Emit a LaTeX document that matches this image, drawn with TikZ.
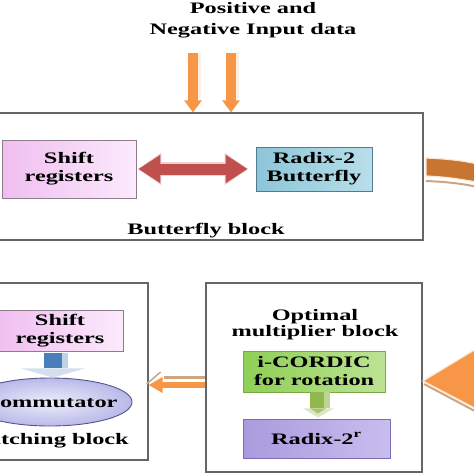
\documentclass[tikz,border=0pt]{standalone}
\usepackage{fontspec}
\setmainfont{Liberation Serif}
\usepackage{graphicx}
\usetikzlibrary{shapes.geometric,arrows.meta,calc}
\definecolor{framec}{HTML}{666666}
\definecolor{orng}{HTML}{F79646}
\definecolor{brn}{HTML}{C77530}
\definecolor{tan}{HTML}{CDA582}
\definecolor{redarr}{HTML}{C0504D}
\definecolor{pinkL}{HTML}{F0BEF0}
\definecolor{pinkR}{HTML}{FCEAFC}
\definecolor{pinkB}{HTML}{8C7C8C}
\definecolor{blueL}{HTML}{8CC6D9}
\definecolor{blueR}{HTML}{B8DEEA}
\definecolor{blueB}{HTML}{4F7C92}
\definecolor{greenL}{HTML}{8ECF55}
\definecolor{greenR}{HTML}{BDE394}
\definecolor{greenB}{HTML}{78A844}
\definecolor{lavL}{HTML}{AA9BDE}
\definecolor{lavR}{HTML}{C8BDEE}
\definecolor{lavB}{HTML}{7B6DB3}
\definecolor{ellI}{HTML}{EDEDFB}
\definecolor{ellO}{HTML}{B9B9E9}
\definecolor{ellB}{HTML}{55558A}
\definecolor{arrBlue}{HTML}{4A7EBB}
\definecolor{arrBlueP}{HTML}{D3DEEE}
\definecolor{arrGreen}{HTML}{93B74F}
\definecolor{arrGreenP}{HTML}{DCE8C4}
\definecolor{paleO}{HTML}{FCE6D6}
\newcommand\wx[1]{\scalebox{1.52}[1]{#1}}
\begin{document}
\begin{tikzpicture}[x=1pt,y=-1pt,
  txt/.style={font=\bfseries\fontsize{16}{18}\selectfont, align=center, inner sep=0pt},
  frm/.style={draw=framec, line width=1.2pt, inner sep=0pt},
  bx/.style={txt, draw=#1, line width=0.9pt},
  down/.style={orng, line width=10pt, -{Triangle[length=12pt,width=17pt]}}
]
\useasboundingbox (0,0) rectangle (474,474);
\clip (0,0) rectangle (474,474);

% title
\node[txt, font=\bfseries\fontsize{16}{21}\selectfont] (title) at (253,20)
  {\wx{Positive and}\\\wx{Negative Input data}};

% frames
\node[frm, minimum width=428pt, minimum height=127pt] (ftop) at (209,176.5) {};
\node[frm, minimum width=153pt, minimum height=177pt] (fbl) at (71.5,371.5) {};
\node[frm, minimum width=216pt, minimum height=189pt] (fbr) at (314,377.5) {};

% input arrows
\coordinate (in1) at (193,53);
\coordinate (in2) at (231,53);
\draw[white!85!orng, line width=3pt] ($(in1)+(6,0)$) -- ($(in1 |- ftop.north)+(6,-14)$);
\draw[white!85!orng, line width=3pt] ($(in2)+(6,0)$) -- ($(in2 |- ftop.north)+(6,-14)$);
\draw[down] (in1) -- (in1 |- ftop.north);
\draw[down] (in2) -- (in2 |- ftop.north);

% top block
\node[bx=pinkB, left color=pinkL, right color=pinkR, minimum width=134pt, minimum height=58pt]
  (srtop) at (69,169) {\wx{Shift}\\\wx{registers}};
\node[bx=blueB, left color=blueL, right color=blueR, minimum width=116pt, minimum height=44pt]
  (r2b) at (314,169) {\wx{Radix-2}\\\wx{Butterfly}};
\draw[redarr!25, line width=14pt, {Triangle[length=24pt,width=31pt]}-{Triangle[length=24pt,width=31pt]}, shorten <=1pt, shorten >=7pt]
  (srtop.east) -- (r2b.west);
\draw[redarr, line width=11pt, {Triangle[length=22pt,width=27pt]}-{Triangle[length=22pt,width=27pt]}, shorten <=2pt, shorten >=8pt]
  (srtop.east) -- (r2b.west);
\node[txt] (bflylbl) at (206,231) {\wx{Butterfly block}};

% curved output arrow (top right)
\draw[tan, line width=2pt] (426,181) .. controls (450,182) and (465,184) .. (482,188);
\fill[brn, draw=paleO, line width=1.2pt] (426,158) .. controls (450,159) and (465,161) .. (482,165)
  -- (482,183) .. controls (465,180) and (450,177) .. (426,176) -- cycle;

% big incoming triangle (bottom right)
\draw[tan, line width=2pt] (424,384) -- (486,417);
\fill[orng, draw=paleO, line width=1.2pt] (423,381) -- (486,343) -- (486,414) -- cycle;

% bottom right block
\node[txt, font=\bfseries\fontsize{16}{16}\selectfont] (optlbl) at (315,325)
  {\wx{Optimal}\\\wx{multiplier block}};
\node[bx=greenB, left color=greenL, right color=greenR, minimum width=142pt, minimum height=41pt]
  (icordic) at (314,371.5) {\wx{i-CORDIC}\\\wx{for rotation}};
\node[bx=lavB, left color=lavL, right color=lavR, minimum width=147pt, minimum height=39pt]
  (rad2r) at (316.5,438.5) {\wx{Radix-2\textsuperscript{r}}};
\coordinate (ga) at ($(icordic.south)+(4,0)$);
\coordinate (gb) at ($(ga |- rad2r.north)+(0,-1)$);
\fill[arrGreenP] ($(ga)+(-15,16)$) -- ($(ga)+(16,16)$) -- (gb) -- cycle;
\fill[arrGreen!60!white] ($(ga)+(4,0)$) rectangle ($(ga)+(12,16)$);
\fill[arrGreen] ($(ga)+(-8,0)$) rectangle ($(ga)+(6,16)$);
\fill[arrGreen!80!white] ($(ga)+(-8,16)$) -- ($(ga)+(8,16)$) -- ($(gb)+(0,-4)$) -- cycle;

% arrow between bottom blocks
\coordinate (la) at (205,385);
\draw[tan, line width=3pt] ($(la)+(0,-8)$) -- ($(la -| fbl.east)+(15,-8)$);
\draw[tan, line width=1.5pt] ($(la -| fbl.east)+(-2,-1)$) -- ($(la -| fbl.east)+(12,-13)$);
\draw[orng, line width=6pt, -{Triangle[length=14pt,width=15pt]}] (la) -- (la -| fbl.east);

% bottom left block
\node[bx=pinkB, left color=pinkL, right color=pinkR, minimum width=126pt, minimum height=41pt]
  (srbot) at (60,330.5) {\wx{Shift}\\\wx{registers}};
\node[ellipse, draw=ellB, line width=0.9pt, inner color=ellI, outer color=ellO,
  minimum width=164pt, minimum height=48pt, inner sep=0pt] (comm) at (50,402) {};
\node[txt] (commlbl) at (comm.center) {\wx{Commutator}};
\coordinate (ba) at ($(srbot.south)+(-7,0)$);
\coordinate (bb) at (ba |- comm.north);
\fill[arrBlueP] ($(ba)+(-32,17)$) -- ($(ba)+(32,17)$) -- (bb) -- cycle;
\fill[arrBlue!35!white] ($(ba)+(8,2)$) rectangle ($(ba)+(15,17)$);
\fill[arrBlue] ($(ba)+(-9,2)$) rectangle ($(ba)+(9,17)$);
\node[txt] (swlbl) at (46,441) {\wx{Switching block}};
\end{tikzpicture}
\end{document}
